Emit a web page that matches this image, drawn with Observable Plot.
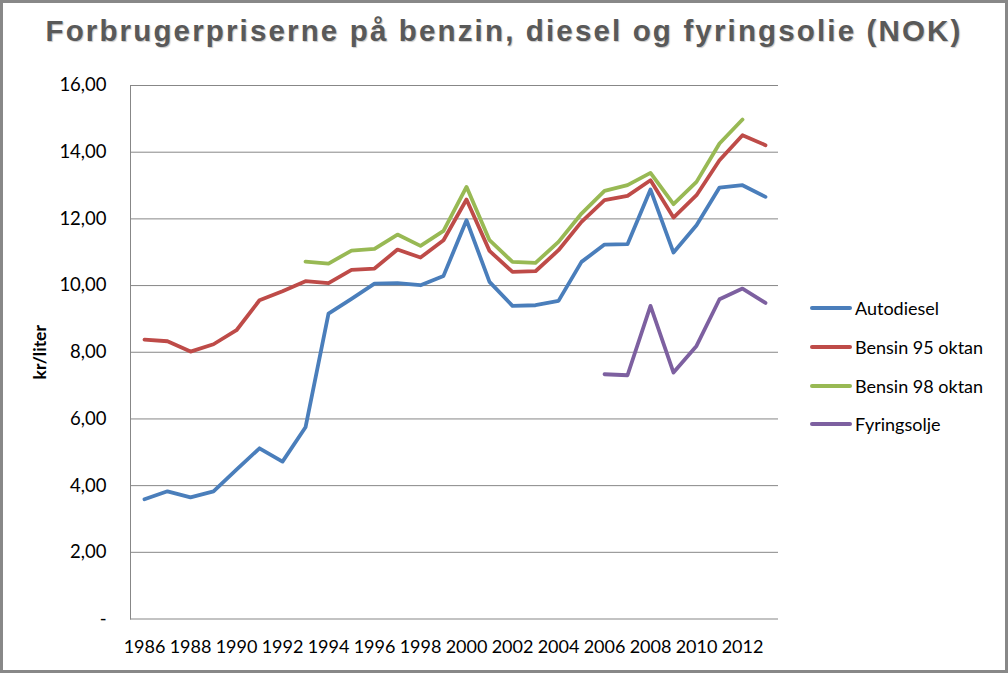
<!DOCTYPE html>
<html>
<head>
<meta charset="utf-8">
<script src="https://cdn.jsdelivr.net/npm/d3@7"></script>
<script src="https://cdn.jsdelivr.net/npm/@observablehq/plot@0.6"></script>
<style>
  body { margin: 0; background: #fff; }
  #wrap { position: relative; width: 1008px; height: 673px; overflow: hidden; background: #fff; }
  #title { position: absolute; left: 0; top: 1px; width: 1008px; height: 60px; line-height: 60px;
    text-align: center; font-family: "Liberation Sans", Arial, sans-serif; font-weight: bold;
    font-size: 29.5px; letter-spacing: 2.15px; color: #595959; white-space: nowrap;
    text-shadow: 1px 1px 1px rgba(0,0,0,0.22); }
  #chart { position: absolute; left: 0; top: 60px; }
  .lg { position: absolute; left: 0; height: 24px; }
  .lg .sw { position: absolute; left: 810px; top: 10px; width: 42px; height: 4px; border-radius: 2px; }
  .lg .tx { position: absolute; left: 855px; top: 0; line-height: 24px; font-family: Lato, "Open Sans", sans-serif;
    font-size: 18px; color: #000; white-space: nowrap; }
  #border { position: absolute; left: 0; top: 0; width: 1008px; height: 673px; box-sizing: border-box;
    border: 3px solid #888; pointer-events: none; }
</style>
</head>
<body>
<div id="wrap">
  <div id="title">Forbrugerpriserne på benzin, diesel og fyringsolie (NOK)</div>
  <div id="chart"></div>
  <div id="legend"></div>
  <div id="border"></div>
</div>
<script>
// ---- data ----
const years = [1986, 1987, 1988, 1989, 1990, 1991, 1992, 1993, 1994, 1995, 1996, 1997, 1998, 1999,
  2000, 2001, 2002, 2003, 2004, 2005, 2006, 2007, 2008, 2009, 2010, 2011, 2012, 2013];

const autodiesel = [3.59, 3.83, 3.65, 3.83, 4.48, 5.12, 4.72, 5.75, 9.16, 9.60, 10.06, 10.07, 10.01, 10.29,
  11.96, 10.11, 9.39, 9.41, 9.54, 10.71, 11.23, 11.24, 12.88, 10.99, 11.81, 12.94, 13.01, 12.66];

const bensin95 = [8.38, 8.33, 8.02, 8.24, 8.66, 9.56, 9.83, 10.13, 10.07, 10.47, 10.51, 11.08, 10.84, 11.36,
  12.58, 11.04, 10.41, 10.43, 11.06, 11.91, 12.56, 12.69, 13.16, 12.04, 12.71, 13.76, 14.51, 14.21];

const bensin98 = [null, null, null, null, null, null, null, 10.72, 10.66, 11.05, 11.10, 11.53, 11.19, 11.64,
  12.96, 11.36, 10.71, 10.68, 11.31, 12.16, 12.84, 13.01, 13.38, 12.44, 13.11, 14.26, 14.98, null];

const fyringsolje = [null, null, null, null, null, null, null, null, null, null, null, null, null, null,
  null, null, null, null, null, null, 7.34, 7.31, 9.39, 7.39, 8.19, 9.59, 9.91, 9.48];

const seriesNames = ["Autodiesel", "Bensin 95 oktan", "Bensin 98 oktan", "Fyringsolje"];
const seriesColors = ["#4a7ebb", "#be4b48", "#98b954", "#7d60a0"];

const yearTicks = [1986, 1988, 1990, 1992, 1994, 1996, 1998, 2000, 2002, 2004, 2006, 2008, 2010, 2012];
const yTicks = [0, 2, 4, 6, 8, 10, 12, 14, 16];
const yLabel = "kr/liter";

// ---- build table ----
const seriesValues = [autodiesel, bensin95, bensin98, fyringsolje];
const rows = [];
seriesValues.forEach((vals, si) => {
  vals.forEach((v, i) => {
    if (v != null) rows.push({ year: years[i], value: v, series: seriesNames[si] });
  });
});

const fmtY = d => d === 0 ? "-" : d.toFixed(2).replace(".", ",");
const fmtX = d => String(d);

const chart = Plot.plot({
  width: 1008,
  height: 613,
  marginLeft: 130,
  marginRight: 230,
  marginTop: 25,
  marginBottom: 54.5,
  style: { fontFamily: "Lato, 'Open Sans', sans-serif", fontSize: "18px", color: "#000", background: "transparent" },
  x: { type: "point", domain: years, padding: 0.5 },
  y: { domain: [0, 16] },
  color: { domain: seriesNames, range: seriesColors },
  marks: [
    Plot.ruleY(yTicks, { stroke: "#878787", strokeWidth: 1 }),
    Plot.frame({ anchor: "left", stroke: "#878787", strokeWidth: 1 }),
    Plot.axisX({ ticks: yearTicks, tickSize: 0, tickPadding: 21, tickFormat: fmtX, label: null, fontSize: 18 }),
    Plot.axisY({ ticks: yTicks, tickSize: 0, tickPadding: 24, tickFormat: fmtY, label: null, fontSize: 18.5 }),
    Plot.text([yLabel], { frameAnchor: "left", dx: -90, rotate: -90, textAnchor: "middle",
      fontWeight: "bold", fontSize: 17.5, fill: "#000" }),
    Plot.line(rows, { x: "year", y: "value", z: "series", stroke: "series",
      strokeWidth: 3.8, strokeLinejoin: "round", strokeLinecap: "round" })
  ]
});
document.getElementById("chart").appendChild(chart);

// ---- legend ----
const legendTops = [296, 335, 374, 412];
const legend = document.getElementById("legend");
seriesNames.forEach((name, i) => {
  const item = document.createElement("div");
  item.className = "lg";
  item.style.top = legendTops[i] + "px";
  const sw = document.createElement("div");
  sw.className = "sw";
  sw.style.background = seriesColors[i];
  const tx = document.createElement("div");
  tx.className = "tx";
  tx.textContent = name;
  item.appendChild(sw);
  item.appendChild(tx);
  legend.appendChild(item);
});
</script>
</body>
</html>
